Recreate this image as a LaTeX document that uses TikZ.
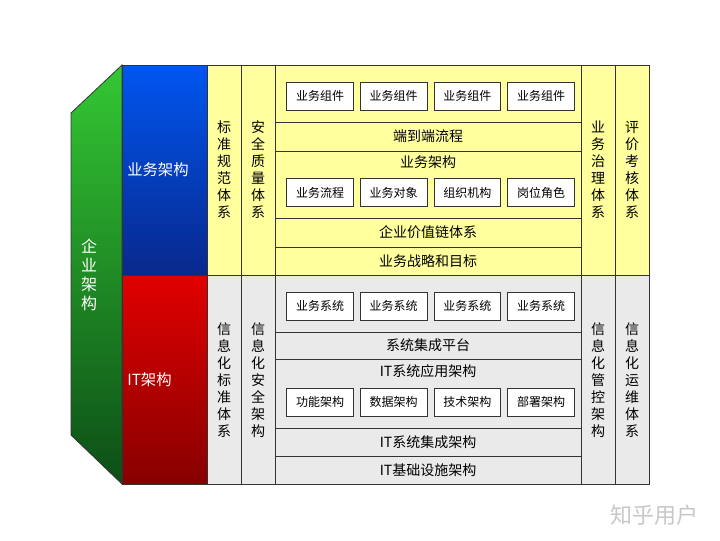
\documentclass[tikz,border=0pt]{standalone}
\usepackage{fontspec}
\setmainfont{Noto Sans CJK SC}
\definecolor{layeryellow}{RGB}{255,255,158}
\definecolor{layergray}{RGB}{234,234,234}
\definecolor{entgreenA}{RGB}{52,200,52}
\definecolor{entgreenB}{RGB}{12,78,22}
\definecolor{bizblueA}{RGB}{0,86,240}
\definecolor{bizblueB}{RGB}{8,40,140}
\definecolor{itredA}{RGB}{225,0,0}
\definecolor{itredB}{RGB}{135,0,0}
\tikzset{
  edge/.style={draw=black!80,line width=0.6pt},
  unitbox/.style={edge,fill=white,minimum width=50pt,minimum height=21pt,
    inner sep=0pt,font=\fontsize{9}{10}\selectfont},
  bandtext/.style={inner sep=0pt,font=\fontsize{10.5}{12}\selectfont},
  coltext/.style={inner sep=0pt,align=center,font=\fontsize{10.5}{12.75}\selectfont}
}
\begin{document}
\begin{tikzpicture}[x=0.75pt,y=-0.75pt]
\useasboundingbox (0,0) rectangle (720,540);

% the green enterprise band
\shadedraw[edge,top color=entgreenA,bottom color=entgreenB]
  (122,65) -- (71,113) -- (71,435) -- (122,484) -- cycle;
\node[coltext,text=white,font=\fontsize{12}{14.25}\selectfont] (ent) at (89,275) {企\\业\\架\\构};

% business and IT blocks
\shadedraw[edge,top color=bizblueA,bottom color=bizblueB] (122,65) rectangle (207,275);
\shadedraw[edge,top color=itredA,bottom color=itredB] (122,275) rectangle (207,484);
\node[anchor=west,inner sep=0pt,text=white,font=\fontsize{11.5}{13}\selectfont] (biz) at (127,170) {业务架构};
\node[anchor=west,inner sep=0pt,text=white,font=\fontsize{11.5}{13}\selectfont] (it) at (127,380) {IT架构};

% the two layers with their columns
\filldraw[edge,fill=layeryellow] (207,65) rectangle (649,275);
\filldraw[edge,fill=layergray] (207,275) rectangle (649,484);
\foreach \x in {241,275,581,615}
  \draw[edge] (\x,65) -- (\x,484);
\foreach \y in {122,151,218,247,332,359,428,456}
  \draw[edge] (275,\y) -- (581,\y);

% column labels
\node[coltext] (std) at (224,170) {标\\准\\规\\范\\体\\系};
\node[coltext] (qual) at (258,170) {安\\全\\质\\量\\体\\系};
\node[coltext] (gov) at (598,170) {业\\务\\治\\理\\体\\系};
\node[coltext] (eval) at (632,170) {评\\价\\考\\核\\体\\系};
\node[coltext] (itstd) at (224,380) {信\\息\\化\\标\\准\\体\\系};
\node[coltext] (itsec) at (258,380) {信\\息\\化\\安\\全\\架\\构};
\node[coltext] (itctl) at (598,380) {信\\息\\化\\管\\控\\架\\构};
\node[coltext] (itops) at (632,380) {信\\息\\化\\运\\维\\体\\系};

% band labels
\node[bandtext] (e2e) at (428,136) {端到端流程};
\node[bandtext] (bizarch) at (428,162) {业务架构};
\node[bandtext] (chain) at (428,232) {企业价值链体系};
\node[bandtext] (goal) at (428,261) {业务战略和目标};
\node[bandtext] (integ) at (428,345) {系统集成平台};
\node[bandtext] (apparch) at (428,371) {IT系统应用架构};
\node[bandtext] (intarch) at (428,442) {IT系统集成架构};
\node[bandtext] (infra) at (428,470) {IT基础设施架构};

% the small boxes
\foreach \t [count=\i from 0] in {业务组件,业务组件,业务组件,业务组件}
  \node[unitbox] (comp\i) at (320+73.7*\i,96) {\t};
\foreach \t [count=\i from 0] in {业务流程,业务对象,组织机构,岗位角色}
  \node[unitbox] (elem\i) at (320+73.7*\i,192.5) {\t};
\foreach \t [count=\i from 0] in {业务系统,业务系统,业务系统,业务系统}
  \node[unitbox] (sys\i) at (320+73.7*\i,306) {\t};
\foreach \t [count=\i from 0] in {功能架构,数据架构,技术架构,部署架构}
  \node[unitbox] (view\i) at (320+73.7*\i,402) {\t};

% watermark
\node[inner sep=0pt,text=black!22,font=\fontsize{16.5}{18}\selectfont] (mark) at (654,515) {知乎用户};
\end{tikzpicture}
\end{document}
